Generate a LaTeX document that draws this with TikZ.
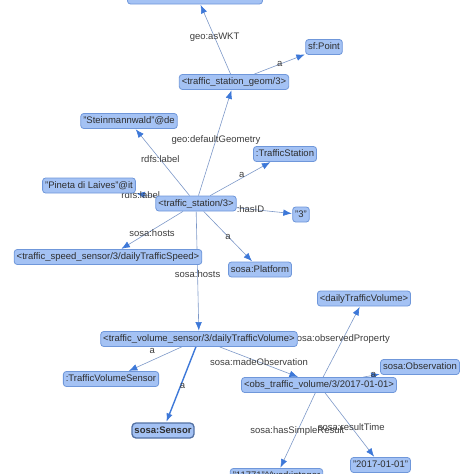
\documentclass[tikz,border=0pt]{standalone}
\usepackage{fontspec}
\setmainfont{Liberation Sans}
\usetikzlibrary{arrows.meta}
\definecolor{ndfill}{HTML}{A4C2F4}
\definecolor{ndline}{HTML}{6F97DA}
\definecolor{edcol}{HTML}{7D98C8}
\definecolor{arrcol}{HTML}{3D78D8}
\definecolor{txt}{HTML}{2E2E2E}
\definecolor{lbltxt}{HTML}{3C3C3C}
\tikzset{
  nd/.style={draw=ndline, fill=ndfill, line width=0.8pt, rounded corners=3pt,
    inner xsep=2.5pt, inner ysep=3pt, text height=7pt, text depth=2pt, text=txt,
    font=\fontsize{9.5}{10}\selectfont},
  boldnd/.style={nd, draw=ndline!75!black, line width=1.3pt, rounded corners=4pt, font=\fontsize{9.5}{10}\selectfont\bfseries},
  ed/.style={draw=edcol, line width=0.6pt, -{Latex[length=8.5pt,width=6.5pt,color=arrcol]}, shorten >=0.5pt},
  bolded/.style={ed, draw=arrcol, line width=1.4pt},
  lbl/.style={text=lbltxt, font=\fontsize{9.5}{10}\selectfont, inner sep=0pt}
}
\begin{document}
\begin{tikzpicture}[x=1pt,y=-1pt]
\path[use as bounding box] (0,0) rectangle (474,474);
\clip (0,0) rectangle (474,474);
\path
 (195,-8) coordinate (ptop)
 (234,82) coordinate (pgeom)
 (324,47) coordinate (ppoint)
 (129,121) coordinate (pstein)
 (89,185.5) coordinate (ppineta)
 (285,154) coordinate (pts)
 (196,203.5) coordinate (pstation)
 (301,214.5) coordinate (pthree)
 (108,257) coordinate (pspeed)
 (260,269.5) coordinate (pplat)
 (364,298.5) coordinate (pdtv)
 (199,339) coordinate (pvol)
 (420,367) coordinate (pobsc)
 (111,379) coordinate (ptvs)
 (319,385) coordinate (pobs)
 (163,430.5) coordinate (psensor)
 (276.5,476) coordinate (pres)
 (380.5,465) coordinate (pdate);

\begin{scope}[opacity=0]
\node[nd, minimum width=135pt, minimum height=24pt] (top) at (ptop) {};
\node[nd] (geom) at (pgeom) {<traffic\_station\_geom/3>};
\node[nd] (point) at (ppoint) {sf:Point};
\node[nd] (stein) at (pstein) {"Steinmannwald"@de};
\node[nd] (pineta) at (ppineta) {"Pineta di Laives"@it};
\node[nd] (ts) at (pts) {:TrafficStation};
\node[nd] (station) at (pstation) {<traffic\_station/3>};
\node[nd] (three) at (pthree) {"3"};
\node[nd] (speed) at (pspeed) {<traffic\_speed\_sensor/3/dailyTrafficSpeed>};
\node[nd] (plat) at (pplat) {sosa:Platform};
\node[nd] (dtv) at (pdtv) {<dailyTrafficVolume>};
\node[nd] (vol) at (pvol) {<traffic\_volume\_sensor/3/dailyTrafficVolume>};
\node[nd] (obsc) at (pobsc) {sosa:Observation};
\node[nd] (tvs) at (ptvs) {:TrafficVolumeSensor};
\node[nd] (obs) at (pobs) {<obs\_traffic\_volume/3/2017-01-01>};
\node[boldnd] (sensor) at (psensor) {sosa:Sensor};
\node[nd] (res) at (pres) {"11771"\textasciicircum\textasciicircum xsd:integer};
\node[nd] (date) at (pdate) {"2017-01-01"};
\end{scope}

% edges
\draw[ed] (geom) -- node[lbl, pos=0.53] {geo:asWKT} (top);
\draw[ed] (geom) -- node[lbl, pos=0.5] {a} (point);
\draw[ed] (station) -- node[lbl, pos=0.54] {rdfs:label} (stein);
\draw[ed] (station) -- node[lbl, pos=0.75, yshift=-1pt] {rdfs:label} (pineta);
\draw[ed] (station) -- node[lbl, pos=0.53] {geo:defaultGeometry} (geom);
\draw[ed] (station) -- node[lbl, pos=0.52, yshift=3pt] {a} (ts);
\draw[ed] (station) -- node[lbl, pos=0.25] {:hasID} (three);
\draw[ed] (station) -- node[lbl, pos=0.5] {a} (plat);
\draw[ed] (station) -- node[lbl, pos=0.5, yshift=-3pt] {sosa:hosts} (speed);
\draw[ed] (station) -- node[lbl, pos=0.52] {sosa:hosts} (vol);
\draw[ed] (vol) -- node[lbl, pos=0.55, yshift=9pt] {a} (tvs);
\draw[bolded] (vol) -- node[lbl, pos=0.52, xshift=2pt] {a} (sensor);
\draw[ed] (vol) -- node[lbl, pos=0.5] {sosa:madeObservation} (obs);
\draw[ed] (obs) -- node[lbl, pos=0.54, xshift=-2pt] {sosa:observedProperty} (dtv);
\draw[ed] (obs) -- node[lbl, pos=0.6] {a} (obsc);
\draw[ed] (obs) -- node[lbl, pos=0.51] {sosa:hasSimpleResult} (res);
\draw[ed] (obs) -- node[lbl, pos=0.53] {sosa:resultTime} (date);

% visible nodes on top
\node[nd, minimum width=135pt, minimum height=24pt] at (ptop) {};
\node[nd] at (pgeom) {<traffic\_station\_geom/3>};
\node[nd] at (ppoint) {sf:Point};
\node[nd] at (pstein) {"Steinmannwald"@de};
\node[nd] at (ppineta) {"Pineta di Laives"@it};
\node[nd] at (pts) {:TrafficStation};
\node[nd] at (pstation) {<traffic\_station/3>};
\node[nd] at (pthree) {"3"};
\node[nd] at (pspeed) {<traffic\_speed\_sensor/3/dailyTrafficSpeed>};
\node[nd] at (pplat) {sosa:Platform};
\node[nd] at (pdtv) {<dailyTrafficVolume>};
\node[nd] at (pvol) {<traffic\_volume\_sensor/3/dailyTrafficVolume>};
\node[nd] at (pobsc) {sosa:Observation};
\node[nd] at (ptvs) {:TrafficVolumeSensor};
\node[nd] at (pobs) {<obs\_traffic\_volume/3/2017-01-01>};
\node[boldnd] at (psensor) {sosa:Sensor};
\node[nd] at (pres) {"11771"\textasciicircum\textasciicircum xsd:integer};
\node[nd] at (pdate) {"2017-01-01"};
\end{tikzpicture}
\end{document}
